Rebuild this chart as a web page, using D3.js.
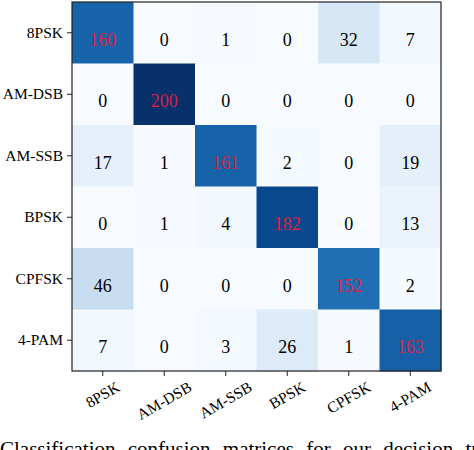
<!DOCTYPE html>
<html>
<head>
<meta charset="utf-8">
<script src="https://cdn.jsdelivr.net/npm/d3@7"></script>
<style>
  body { margin: 0; background: #fff; }
  text { font-family: "Liberation Serif", "DejaVu Serif", serif; }
</style>
</head>
<body>
<svg id="chart" width="474" height="450"></svg>
<script>
// class labels, rows = true class, columns = predicted class
var classes = ["8PSK", "AM-DSB", "AM-SSB", "BPSK", "CPFSK", "4-PAM"];

var row8PSK  = [160, 0, 1, 0, 32, 7];
var rowAMDSB = [0, 200, 0, 0, 0, 0];
var rowAMSSB = [17, 1, 161, 2, 0, 19];
var rowBPSK  = [0, 1, 4, 182, 0, 13];
var rowCPFSK = [46, 0, 0, 0, 152, 2];
var row4PAM  = [7, 0, 3, 26, 1, 163];

var matrix = [row8PSK, rowAMDSB, rowAMSSB, rowBPSK, rowCPFSK, row4PAM];
var maxCount = 200;

var svg = d3.select("#chart");

// plot box
var plotLeft = 72, plotRight = 441, plotTop = 2, plotBottom = 371;

var x = d3.scaleBand().domain(classes).range([plotLeft, plotRight]);
var y = d3.scaleBand().domain(classes).range([plotTop, plotBottom]);
var color = d3.scaleSequential(d3.interpolateBlues).domain([0, maxCount]);

// flatten into cells
var cells = [];
matrix.forEach(function(row, i) {
  row.forEach(function(v, j) {
    cells.push({row: classes[i], col: classes[j], value: v, diag: i === j});
  });
});

svg.append("g").selectAll("rect")
  .data(cells).enter()
  .append("rect")
  .attr("x", d => x(d.col))
  .attr("y", d => y(d.row))
  .attr("width", x.bandwidth() + 0.5)
  .attr("height", y.bandwidth() + 0.5)
  .attr("fill", d => color(d.value));

// counts
svg.append("g").selectAll("text")
  .data(cells).enter()
  .append("text")
  .attr("x", d => x(d.col) + x.bandwidth() / 2)
  .attr("y", d => y(d.row) + y.bandwidth() / 2 + 13)
  .attr("text-anchor", "middle")
  .attr("font-size", 18)
  .attr("fill", d => d.diag ? "#dc1f44" : "#000")
  .text(d => d.value);

// frame
svg.append("rect")
  .attr("x", plotLeft).attr("y", plotTop)
  .attr("width", plotRight - plotLeft).attr("height", plotBottom - plotTop)
  .attr("fill", "none")
  .attr("stroke", "#222")
  .attr("stroke-width", 1.2);

// y axis
var yAxis = svg.append("g")
  .attr("transform", `translate(${plotLeft},0)`)
  .call(d3.axisLeft(y).tickSize(5).tickPadding(4));
yAxis.select(".domain").remove();
yAxis.selectAll("line").attr("stroke", "#222");
yAxis.selectAll("text")
  .attr("font-size", 15.5)
  .attr("fill", "#000")
  .attr("dy", "0.33em");

// x axis, labels rotated 30deg, centred under the tick
var xAxis = svg.append("g")
  .attr("transform", `translate(0,${plotBottom})`)
  .call(d3.axisBottom(x).tickSize(5).tickPadding(4));
xAxis.select(".domain").remove();
xAxis.selectAll("line").attr("stroke", "#222");
xAxis.selectAll("text")
  .attr("font-size", 15.5)
  .attr("fill", "#000")
  .attr("text-anchor", "middle")
  .attr("dy", "0.33em")
  .attr("y", 0)
  .attr("transform", function() {
    var w = this.getComputedTextLength();
    var h = 11;
    var a = 30 * Math.PI / 180;
    var hh = (w * Math.sin(a) + h * Math.cos(a)) / 2;
    return `translate(0,${10 + hh}) rotate(-30)`;
  });

// caption, cut off at the bottom of the picture
svg.append("text")
  .attr("x", 0)
  .attr("y", 456)
  .attr("font-size", 21)
  .attr("word-spacing", 7)
  .text("Classification confusion matrices for our decision tree");
</script>
</body>
</html>
